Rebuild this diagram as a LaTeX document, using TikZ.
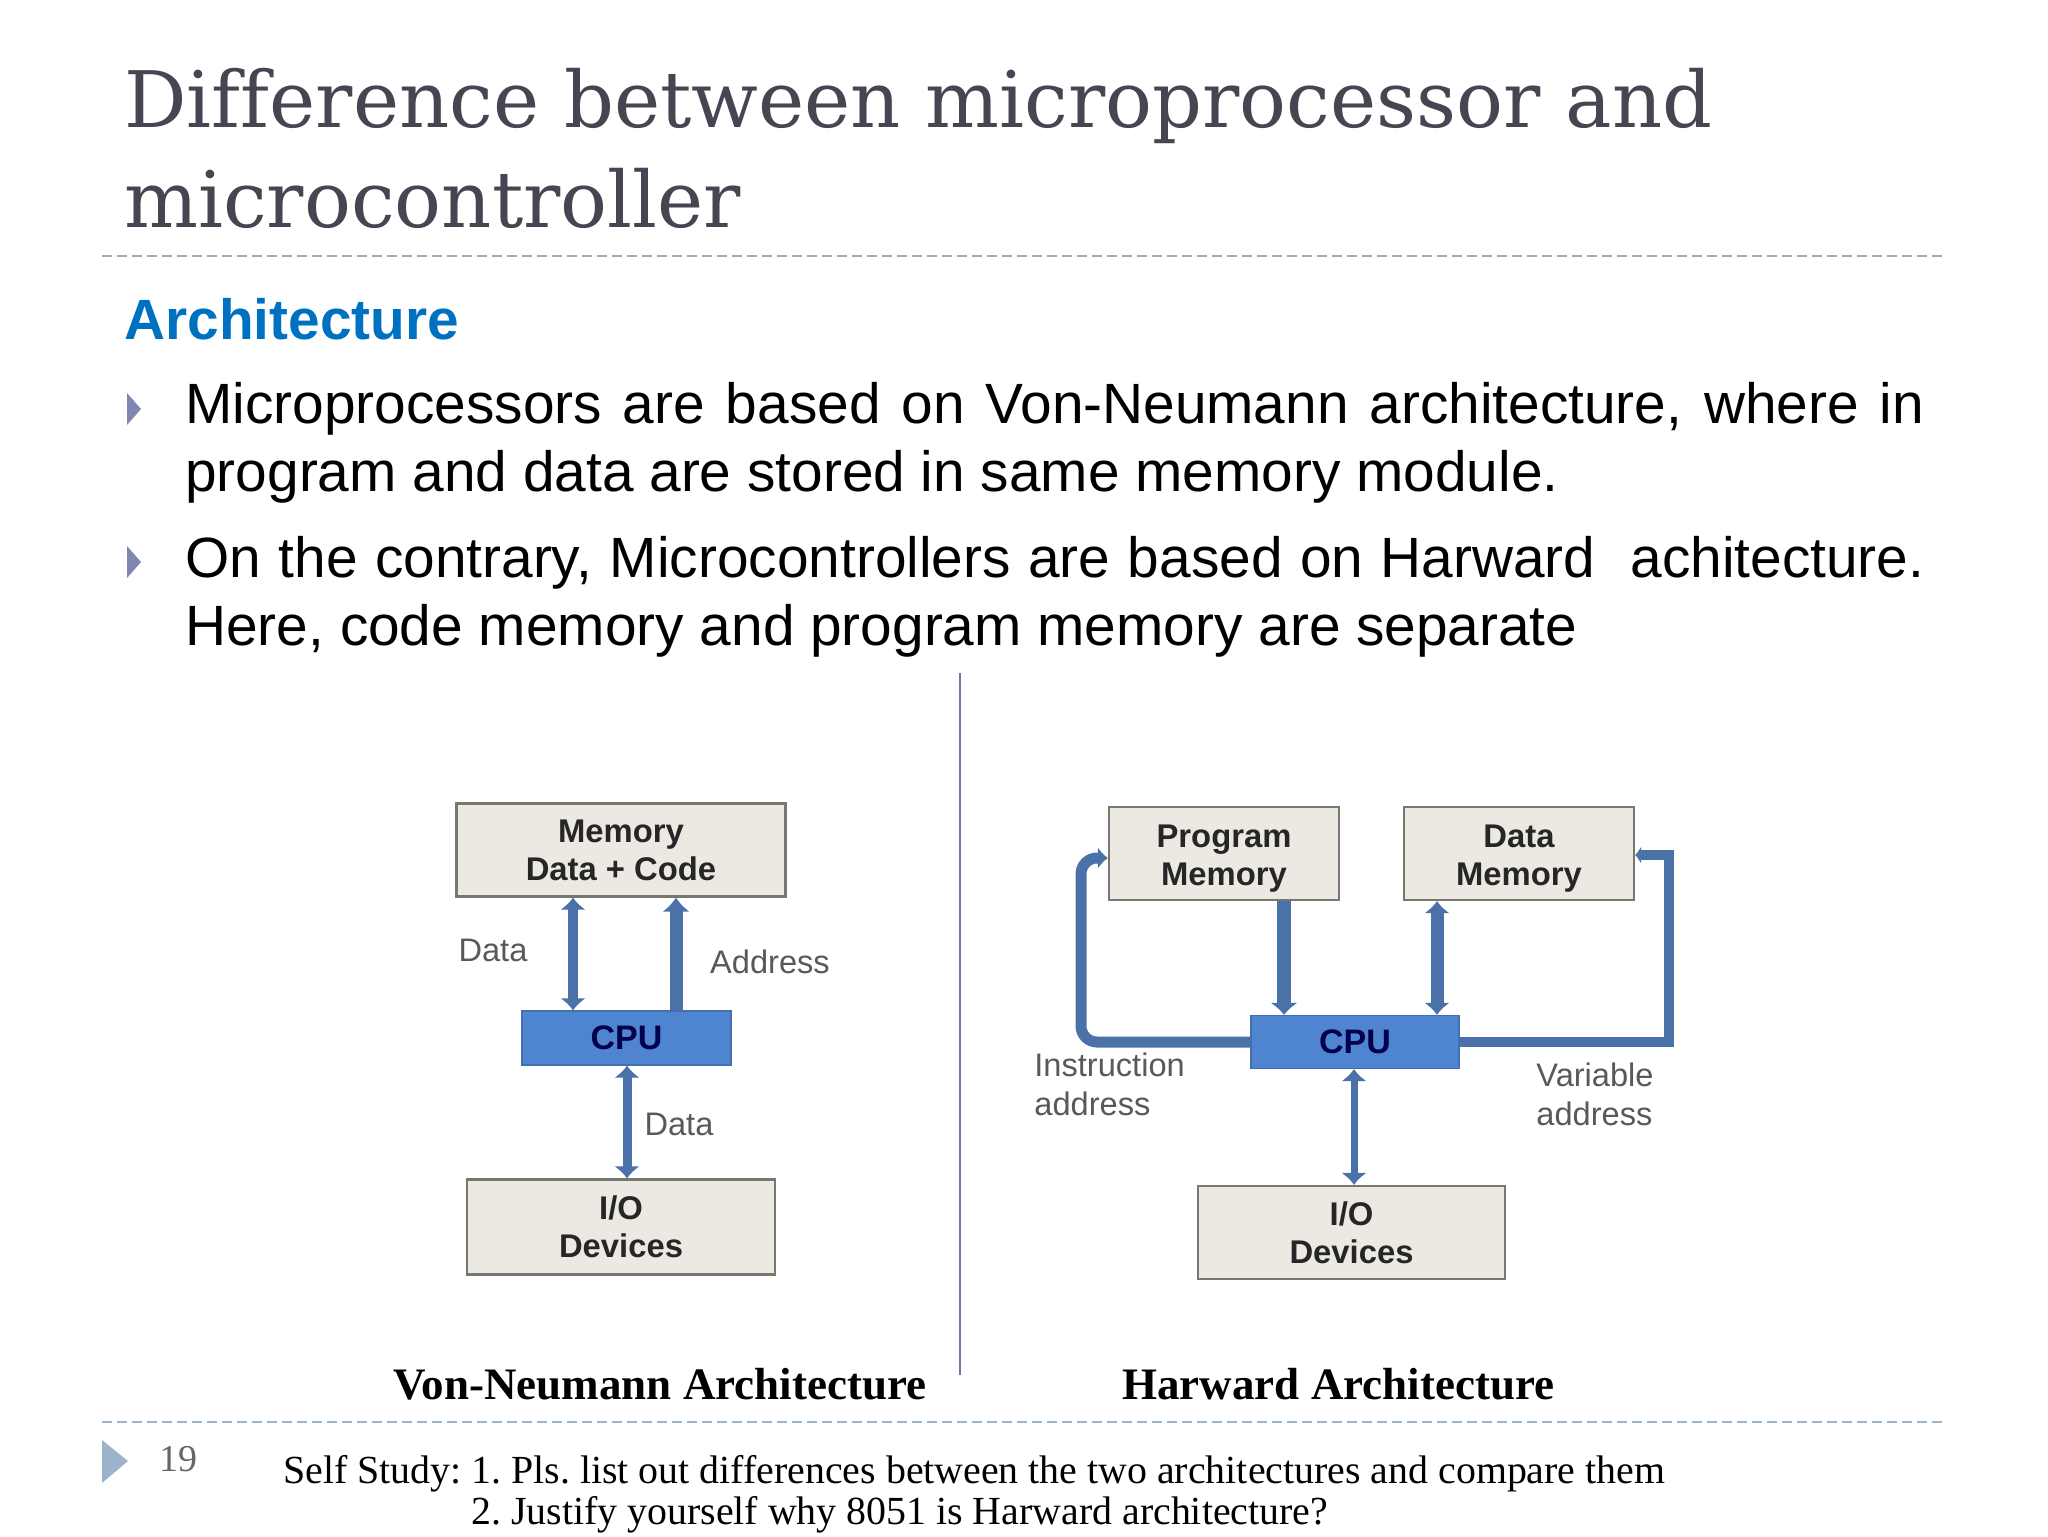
\documentclass[tikz,border=0pt]{standalone}
\usepackage{fontspec}
\setmainfont{Liberation Sans}
\newfontfamily\capfont{Liberation Serif}
\newfontfamily\titlefont[Ligatures=NoCommon]{DejaVu Serif}
\usetikzlibrary{arrows.meta}
\definecolor{titlegrey}{HTML}{464653}
\definecolor{headblue}{HTML}{0070C0}
\definecolor{bulletblue}{HTML}{7F86B0}
\definecolor{rulegrey}{HTML}{A3ABB5}
\definecolor{footblue}{HTML}{9DB3CB}
\definecolor{boxfill}{HTML}{EBE9E1}
\definecolor{boxline}{HTML}{77776F}
\definecolor{cpublue}{HTML}{4F84D0}
\definecolor{busblue}{HTML}{4A72A8}
\newcommand{\boxstrut}{\rule{0pt}{16pt}}
\tikzset{
  heading/.style={anchor=base west,inner sep=0pt,text=titlegrey,font=\titlefont\fontsize{39}{39}\selectfont},
  bodytext/.style={anchor=north west,inner sep=0pt,text width=869.5pt,align=justify,font=\fontsize{28.4}{34}\selectfont},
  caption/.style={anchor=west,inner sep=0pt,font=\capfont\bfseries\fontsize{22.5}{26}\selectfont},
  footer/.style={anchor=west,inner sep=0pt,font=\capfont\fontsize{19.93}{23}\selectfont\frenchspacing},
  membox/.style={draw=boxline,line width=1.1pt,fill=boxfill,align=center,inner sep=0pt,text=black!85,font=\bfseries\fontsize{16.4}{19}\selectfont},
  cpubox/.style={fill=cpublue,draw=cpublue!85!black,line width=.6pt,inner sep=0pt,text=blue!30!black,font=\bfseries\fontsize{17}{20}\selectfont},
  buslabel/.style={inner sep=0pt,align=left,text=black!65,font=\fontsize{16.3}{19.5}\selectfont},
  busone/.style={draw=busblue,line width=#1,{Latex[length=6pt,width=13pt]}-{Latex[length=6pt,width=13pt]}},
  busto/.style={draw=busblue,line width=#1,-{Latex[length=6pt,width=14pt]}},
}
\begin{document}
\begin{tikzpicture}[x=0.5pt,y=-0.5pt]
\useasboundingbox (0,0) rectangle (2048,1536);
% heading
\node[heading] (title1) at (124,127) {Difference between microprocessor and};
\node[heading] (title2) at (124,227) {microcontroller};
\draw[rulegrey,line width=.8pt,dash pattern=on 5pt off 2.5pt] (102,256) -- (1947,256);
\node[anchor=west,inner sep=0pt,text=headblue,font=\bfseries\fontsize{28.4}{32}\selectfont] (arch) at (124,319) {Architecture};
% bullets
\fill[bulletblue] (127,393) -- (141,409) -- (127,425) -- cycle;
\node[bodytext] (para1) at (185,382) {Microprocessors are based on Von-Neumann architecture, where in\linebreak program and data are stored in same memory module.};
\fill[bulletblue] (127,546) -- (141,562) -- (127,578) -- cycle;
\node[bodytext] (para2) at (185,536) {On the contrary, Microcontrollers are based on Harward\ \ achitecture.\linebreak Here, code memory and program memory are separate};
\draw[bulletblue!90!black,line width=.8pt] (960,673) -- (960,1375);
% von-neumann
\node[membox,minimum width=164.5pt,minimum height=46.5pt] (vnmem) at (621,850) {Memory\\Data + Code};
\node[cpubox,minimum width=104.5pt,minimum height=27pt] (vncpu) at (626.5,1038) {CPU};
\node[membox,minimum width=154pt,minimum height=47.5pt] (vnio) at (621,1227) {I/O\\Devices};
\draw[busone=5pt] (573,0 |- vnmem.south) -- (573,0 |- vncpu.north);
\draw[draw=busblue,line width=6.5pt,{Latex[length=7pt,width=14pt]}-] (676,0 |- vnmem.south) -- (676,0 |- vncpu.north);
\draw[busone=4.5pt] (627,0 |- vncpu.south) -- (627,0 |- vnio.north);
\node[buslabel] (vndata) at (493,950) {Data};
\node[buslabel] (vnaddr) at (770,962) {Address};
\node[buslabel] (vnioda) at (679,1124) {Data};
\node[caption] (vncap) at (393,1384) {Von-Neumann Architecture};
% harvard
\node[membox,minimum width=115pt,minimum height=46.5pt] (hvprog) at (1224,853.5) {\boxstrut Program\\Memory};
\node[membox,minimum width=115pt,minimum height=46.5pt] (hvdata) at (1519,853.5) {\boxstrut Data\\Memory};
\node[cpubox,minimum width=104pt,minimum height=26.5pt] (hvcpu) at (1355,1042) {CPU};
\node[membox,minimum width=153.5pt,minimum height=46.5pt] (hvio) at (1351.5,1232.5) {I/O\\Devices};
\draw[busto=7pt] (1284,0 |- hvprog.south) -- (1284,0 |- hvcpu.north);
\draw[busone=6.5pt] (1437,0 |- hvdata.south) -- (1437,0 |- hvcpu.north);
\draw[busone=3.5pt] (1354,0 |- hvcpu.south) -- (1354,0 |- hvio.north);
\draw[draw=busblue,line width=5.5pt,rounded corners=8pt,-{Latex[length=5pt,width=11pt]}] (hvcpu.west) -- (1081,1042) -- (1081,858) -- (1081,858 -| hvprog.west);
\draw[draw=busblue,line width=5pt,-{Latex[length=3pt,width=9pt]}] (hvcpu.east) -- (1669,1042) -- (1669,855) -- (1669,855 -| hvdata.east);
\node[buslabel,anchor=west] (hvinst) at (1034,1084) {Instruction\\address};
\node[buslabel,anchor=west] (hvvar) at (1536,1094) {Variable\\address};
\node[caption] (hvcap) at (1122,1384) {Harward Architecture};
% footer
\draw[footblue,line width=.8pt,dash pattern=on 5pt off 2.5pt] (102,1422) -- (1947,1422);
\fill[footblue] (102,1440) -- (128,1461) -- (102,1483) -- cycle;
\node[anchor=west,inner sep=0pt,text=black!60,font=\capfont\fontsize{19}{22}\selectfont] (pageno) at (159,1459) {19};
\node[footer] (study1) at (283,1474) {Self Study: 1. Pls. list out differences between the two architectures and compare them};
\node[footer] (study2) at (471,1515) {2. Justify yourself why 8051 is Harward architecture?};
\end{tikzpicture}
\end{document}
